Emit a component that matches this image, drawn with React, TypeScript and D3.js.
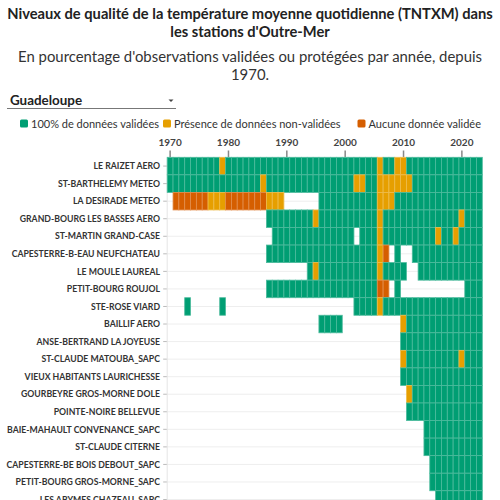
import React from "react";
import * as d3 from "d3";

const FIRST_YEAR = 1970;
const LAST_YEAR = 2023;
const xTickYears = [1970, 1980, 1990, 2000, 2010, 2020];

const regionName = "Guadeloupe";
const titleLines = [
  "Niveaux de qualité de la température moyenne quotidienne (TNTXM) dans",
  "les stations d'Outre-Mer",
];
const subtitleLines = [
  "En pourcentage d'observations validées ou protégées par année, depuis",
  "1970.",
];

const legendLabels = [
  "100% de données validées",
  "Présence de données non-validées",
  "Aucune donnée validée",
];
const levelColors = ["#009E73", "#E69F00", "#D55E00"];

const stations = [
  "LE RAIZET AERO",
  "ST-BARTHELEMY METEO",
  "LA DESIRADE METEO",
  "GRAND-BOURG LES BASSES AERO",
  "ST-MARTIN GRAND-CASE",
  "CAPESTERRE-B-EAU NEUFCHATEAU",
  "LE MOULE LAUREAL",
  "PETIT-BOURG ROUJOL",
  "STE-ROSE VIARD",
  "BAILLIF AERO",
  "ANSE-BERTRAND LA JOYEUSE",
  "ST-CLAUDE MATOUBA_SAPC",
  "VIEUX HABITANTS LAURICHESSE",
  "GOURBEYRE GROS-MORNE DOLE",
  "POINTE-NOIRE BELLEVUE",
  "BAIE-MAHAULT CONVENANCE_SAPC",
  "ST-CLAUDE CITERNE",
  "CAPESTERRE-BE BOIS DEBOUT_SAPC",
  "PETIT-BOURG GROS-MORNE_SAPC",
  "LES ABYMES CHAZEAU_SAPC",
];

// periods per station: [fromYear, toYear, level] ; level 1 = 100% validated, 2 = non-validated present, 3 = none validated
const stationPeriods: [number, number, number][][] = [
  [[1970, 1978, 1], [1979, 1979, 2], [1980, 2005, 1], [2006, 2006, 2], [2007, 2008, 1], [2009, 2010, 2], [2011, 2023, 1]],
  [[1970, 1985, 1], [1986, 1986, 2], [1987, 2001, 1], [2002, 2003, 2], [2004, 2005, 1], [2006, 2011, 2], [2012, 2023, 1]],
  [[1971, 1976, 3], [1977, 1979, 2], [1980, 1986, 3], [1987, 1989, 2], [1996, 2005, 1], [2006, 2008, 2], [2009, 2023, 1]],
  [[1987, 1994, 1], [1995, 1995, 2], [1996, 2005, 1], [2006, 2006, 2], [2007, 2019, 1], [2020, 2020, 2], [2021, 2023, 1]],
  [[1988, 2001, 1], [2003, 2005, 1], [2006, 2006, 2], [2007, 2015, 1], [2016, 2016, 2], [2017, 2018, 1], [2019, 2019, 2], [2020, 2023, 1]],
  [[1987, 2005, 1], [2006, 2006, 2], [2007, 2007, 3], [2009, 2009, 1], [2012, 2023, 1]],
  [[1994, 1994, 1], [1995, 1995, 2], [1996, 2005, 1], [2006, 2006, 2], [2007, 2010, 1], [2013, 2023, 1]],
  [[1987, 2005, 1], [2006, 2007, 3], [2009, 2009, 1], [2021, 2023, 1]],
  [[1973, 1973, 1], [1979, 1979, 1], [2002, 2005, 1], [2006, 2006, 2], [2007, 2023, 1]],
  [[1996, 1999, 1], [2010, 2010, 2], [2011, 2023, 1]],
  [[2010, 2023, 1]],
  [[2010, 2010, 2], [2011, 2019, 1], [2020, 2020, 2], [2021, 2023, 1]],
  [[2010, 2023, 1]],
  [[2011, 2011, 2], [2012, 2023, 1]],
  [[2011, 2023, 1]],
  [[2014, 2023, 1]],
  [[2014, 2023, 1]],
  [[2015, 2023, 1]],
  [[2015, 2023, 1]],
  [[2016, 2023, 1]],
];

const FONT = "Lato, 'Open Sans', sans-serif";

export default function App() {
  const years = d3.range(FIRST_YEAR, LAST_YEAR + 1);
  const plotLeft = 167.2;
  const plotRight = 482.3;
  const plotTop = 157.3;
  const rowStep = 17.55;

  const x = d3.scaleBand<number>().domain(years).range([plotLeft, plotRight]).padding(0);
  const y = d3
    .scaleBand<string>()
    .domain(stations)
    .range([plotTop, plotTop + rowStep * stations.length])
    .padding(0);

  const cells: { station: string; year: number; level: number }[] = [];
  stationPeriods.forEach((periods, i) => {
    periods.forEach(([a, b, level]) => {
      for (let yr = a; yr <= b; yr++) cells.push({ station: stations[i], year: yr, level });
    });
  });

  const totalH = plotTop + rowStep * stations.length + 10;
  const strokeFor = (c: string) => d3.interpolateRgb(c, "#ffffff")(0.3);

  const legendX = [20, 163, 357.5];

  return (
    <div>
      <style>{`body{margin:0}`}</style>
      <svg width={500} height={totalH} style={{ display: "block", fontFamily: FONT }}>
        <rect x={0} y={0} width={500} height={totalH} fill="#fff" />
        {titleLines.map((t, i) => (
          <text
            key={"t" + i}
            x={250}
            y={19 + i * 18}
            textAnchor="middle"
            fontSize={14.7}
            fontWeight={700}
            fill="#222"
          >
            {t}
          </text>
        ))}
        {subtitleLines.map((t, i) => (
          <text key={"s" + i} x={250} y={62 + i * 17.5} textAnchor="middle" fontSize={14.9} fill="#333">
            {t}
          </text>
        ))}

        {/* dropdown */}
        <text x={10} y={104.5} fontSize={13.4} fontWeight={700} fill="#222">
          {regionName}
        </text>
        <line x1={7} x2={176} y1={108.5} y2={108.5} stroke="#777" strokeWidth={1} />
        <path d="M168.5,99.5 L173.5,99.5 L171,102 Z" fill="#444" />

        {/* legend */}
        {legendLabels.map((l, i) => (
          <g key={"l" + i}>
            <rect x={legendX[i]} y={119.5} width={8} height={8} rx={1.5} fill={levelColors[i]} />
            <text x={legendX[i] + 11} y={127.5} fontSize={11} fill="#333">
              {l}
            </text>
          </g>
        ))}

        {/* horizontal grid lines and row labels */}
        {stations.map((s) => {
          const cy = (y(s) as number) + y.bandwidth() / 2;
          return (
            <g key={"g" + s}>
              <line x1={plotLeft} x2={plotRight} y1={cy} y2={cy} stroke="#eeeeee" strokeWidth={1} />
              <line x1={plotLeft - 4} x2={plotLeft} y1={cy} y2={cy} stroke="#bbb" strokeWidth={1} />
              <text x={160} y={cy + 3.2} textAnchor="end" fontSize={8.7} fontWeight={700} fill="#333">
                {s}
              </text>
            </g>
          );
        })}
        <line x1={plotLeft} x2={plotLeft} y1={plotTop} y2={totalH} stroke="#e5e5e5" strokeWidth={1} />

        {/* x axis */}
        {xTickYears.map((yr) => {
          const cx = (x(yr) as number) + x.bandwidth() / 2;
          return (
            <g key={"x" + yr}>
              <line x1={cx} x2={cx} y1={150.5} y2={157} stroke="#888" strokeWidth={1.5} />
              <text x={cx} y={146} textAnchor="middle" fontSize={10} fontWeight={700} fill="#444">
                {yr}
              </text>
            </g>
          );
        })}

        {/* cells */}
        {cells.map((c, i) => {
          const col = levelColors[c.level - 1];
          return (
            <rect
              key={"c" + i}
              x={x(c.year) as number}
              y={y(c.station) as number}
              width={x.bandwidth()}
              height={y.bandwidth()}
              fill={col}
              stroke={strokeFor(col)}
              strokeWidth={0.8}
            />
          );
        })}
      </svg>
    </div>
  );
}
